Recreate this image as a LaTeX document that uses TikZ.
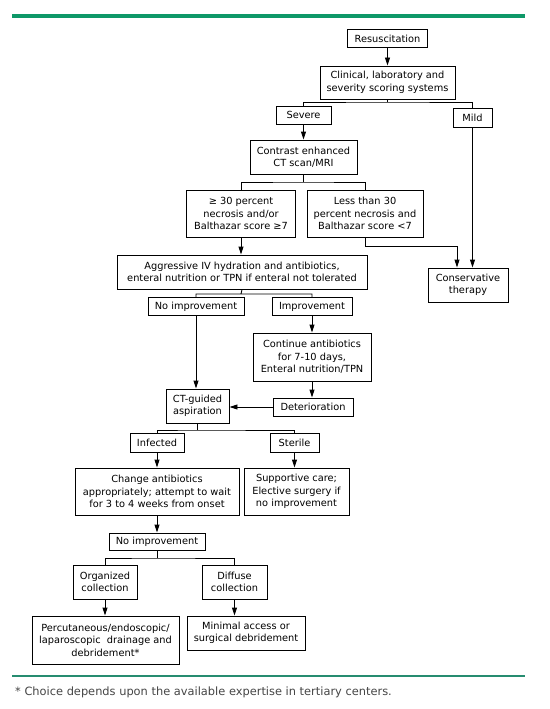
\documentclass[tikz,border=0pt]{standalone}
\usepackage{fontspec}
\setmainfont{DejaVu Sans}
\usetikzlibrary{positioning,arrows.meta,calc}
\definecolor{topgreen}{RGB}{14,152,104}
\definecolor{rulegreen}{RGB}{38,140,112}
\definecolor{notegray}{RGB}{70,70,70}

\begin{document}
\begin{tikzpicture}[x=1pt, y=-1pt, >={Triangle[length=8pt,width=5pt]},
    bx/.style={draw,line width=0.9pt,align=center,inner sep=0pt,
               font=\fontsize{9.8}{12.5}\selectfont},
    ln/.style={line width=0.9pt}]
    \fill[white] (0,0) rectangle (549,709);
    \useasboundingbox (0,0) rectangle (549,709);
    \draw[topgreen,line width=4pt] (12,16) -- (525,16);
    \draw[rulegreen,line width=2pt] (12,676) -- (525,676);
    \node[notegray,anchor=west,inner sep=0pt,font=\fontsize{11.4}{13}\selectfont] (note) at (15,692)
      {* Choice depends upon the available expertise in tertiary centers.};

    \node[bx,minimum width=80pt,minimum height=18pt]  (resus)   at (387.5,38.5) {Resuscitation};
    \node[bx,minimum width=135pt,minimum height=33pt] (clin)    at (387.5,82.5) {Clinical, laboratory and\\severity scoring systems};
    \node[bx,minimum width=55pt,minimum height=18pt]  (severe)  at (303.5,115) {Severe};
    \node[bx,minimum width=39pt,minimum height=19pt]  (mild)    at (472.5,117.5) {Mild};
    \node[bx,minimum width=107pt,minimum height=34pt] (ct)      at (303.5,157) {Contrast enhanced\\CT scan/MRI};
    \node[bx,minimum width=109pt,minimum height=47pt] (ge30)    at (241,213.5) {≥ 30 percent\\necrosis and/or\\Balthazar score ≥7};
    \node[bx,minimum width=116pt,minimum height=47pt] (lt30)    at (365,213.5) {Less than 30\\percent necrosis and\\Balthazar score <7};
    \node[bx,minimum width=250pt,minimum height=34pt] (aggr)    at (242,272) {Aggressive IV hydration and antibiotics,\\enteral nutrition or TPN if enteral not tolerated};
    \node[bx,minimum width=80pt,minimum height=34pt]  (cons)    at (468,285) {Conservative\\therapy};
    \node[bx,minimum width=96pt,minimum height=18pt]  (noimpa)  at (196,306.5) {No improvement};
    \node[bx,minimum width=80pt,minimum height=18pt]  (imp)     at (312,306.5) {Improvement};
    \node[bx,minimum width=118pt,minimum height=48pt] (contab)  at (312,357) {Continue antibiotics\\for 7-10 days,\\Enteral nutrition/TPN};
    \node[bx,minimum width=80pt,minimum height=18pt]  (deter)   at (313,407) {Deterioration};
    \node[bx,minimum width=63pt,minimum height=34pt]  (ctasp)   at (197.5,406) {CT-guided\\aspiration};
    \node[bx,minimum width=54pt,minimum height=19pt]  (infect)  at (157,442.5) {Infected};
    \node[bx,minimum width=49pt,minimum height=19pt]  (sterile) at (294.5,442.5) {Sterile};
    \node[bx,minimum width=164pt,minimum height=47pt] (change)  at (157,491.5) {Change antibiotics\\appropriately; attempt to wait\\for 3 to 4 weeks from onset};
    \node[bx,minimum width=105pt,minimum height=47pt] (support) at (296.5,491.5) {Supportive care;\\Elective surgery if\\no improvement};
    \node[bx,minimum width=96pt,minimum height=17pt]  (noimpb)  at (157,541.5) {No improvement};
    \node[bx,minimum width=64pt,minimum height=34pt]  (organ)   at (105,582) {Organized\\collection};
    \node[bx,minimum width=65pt,minimum height=34pt]  (diffuse) at (234.5,582) {Diffuse\\collection};
    \node[bx,minimum width=147pt,minimum height=48pt] (percut)  at (105.5,640) {Percutaneous/endoscopic/\\laparoscopic\ \ drainage and\\debridement*};
    \node[bx,minimum width=118pt,minimum height=34pt] (minimal) at (246,633) {Minimal access or\\surgical debridement};

    \coordinate (ja) at (387.5,102);
    \coordinate (jb) at (303.5,182);
    \coordinate (jc) at (241,294);
    \coordinate (jd) at (197.5,430);
    \coordinate (je) at (157,558);
    \coordinate (bend) at (457,246);
    \foreach \p/\j/\l/\r in {clin/ja/severe/mild,ct/jb/ge30/lt30,aggr/jc/noimpa/imp,
                             ctasp/jd/infect/sterile,noimpb/je/organ/diffuse}
      \draw[ln] (\p.south) -- (\j) (\l.north) |- (\j) -| (\r.north);
    \foreach \a/\b in {resus/clin,severe/ct,ge30/aggr,mild/cons,noimpa/ctasp,imp/contab,
                       contab/deter,infect/change,sterile/support,change/noimpb,
                       organ/percut,diffuse/minimal}
      \draw[ln,->] (\a.south) -- (\a.south |- \b.north);
    \draw[ln,->] (lt30.south) |- (bend) -- (bend |- cons.north);
    \draw[ln,->] (deter.west) -- (deter.west -| ctasp.east);
  \end{tikzpicture}
\end{document}
